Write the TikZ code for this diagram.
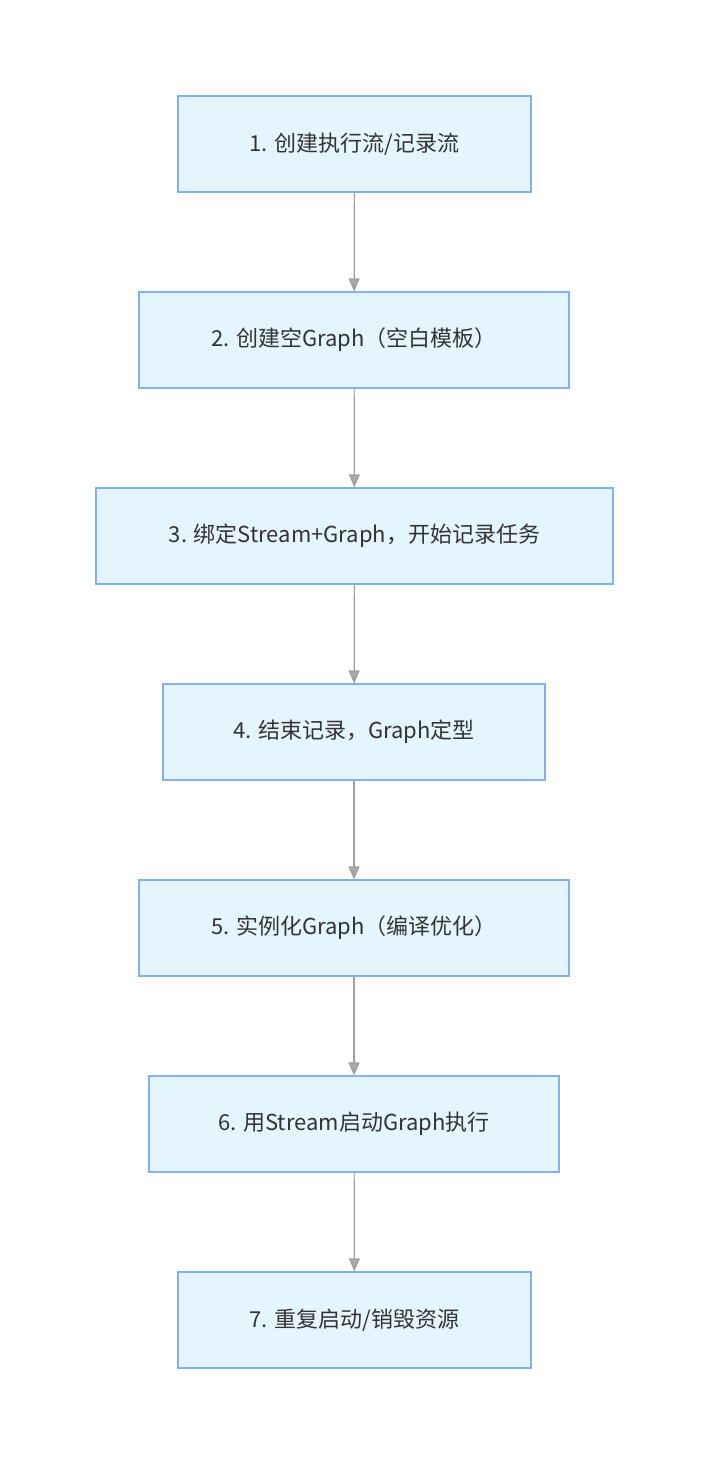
\documentclass[tikz,border=0pt]{standalone}
\usepackage{fontspec}
\setmainfont{Noto Sans CJK SC}
\usetikzlibrary{arrows.meta}
\definecolor{boxfill}{HTML}{E5F5FD}
\definecolor{boxline}{HTML}{82B0F4}
\definecolor{arr}{HTML}{9E9E9E}
\begin{document}
\begin{tikzpicture}[x=1pt,y=-1pt,
  box/.style={draw=boxline,fill=boxfill,line width=1.2pt,inner sep=0pt,font=\fontsize{22}{26}\selectfont,text=black!80},
  link/.style={draw=arr,line width=1.2pt,-{Triangle[length=13pt,width=11pt,fill=arr!70!black!60]}}]
\useasboundingbox (0,0) rectangle (709,1463);
\node[box,minimum width=353pt,minimum height=96pt] (n1) at (354.5,144) {1. 创建执行流/记录流};
\node[box,minimum width=430pt,minimum height=96pt] (n2) at (354,340) {2. 创建空Graph（空白模板）};
\node[box,minimum width=517pt,minimum height=96pt] (n3) at (354.5,536) {3. 绑定Stream+Graph，开始记录任务};
\node[box,minimum width=382pt,minimum height=96pt] (n4) at (354,732) {4. 结束记录，Graph定型};
\node[box,minimum width=430pt,minimum height=96pt] (n5) at (354,928) {5. 实例化Graph（编译优化）};
\node[box,minimum width=410pt,minimum height=96pt] (n6) at (354,1124) {6. 用Stream启动Graph执行};
\node[box,minimum width=353pt,minimum height=96pt] (n7) at (354.5,1320) {7. 重复启动/销毁资源};
\foreach \a/\b in {n1/n2,n2/n3,n3/n4,n4/n5,n5/n6,n6/n7}
  \draw[link] (\a) -- (\b);
\end{tikzpicture}
\end{document}
